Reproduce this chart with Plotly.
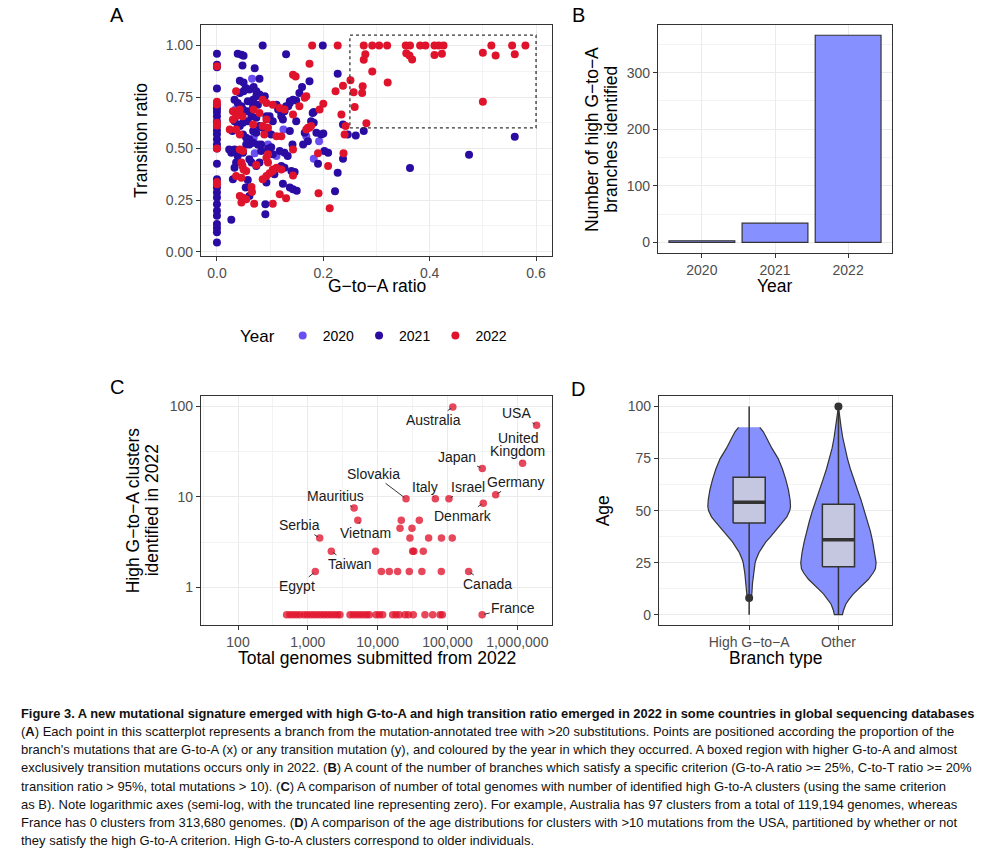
import numpy as np
import plotly.graph_objects as go

FONT = "Liberation Sans, Arial, sans-serif"
C2020, C2021, C2022 = "#6A4EF2", "#2B0CA3", "#E0132C"
VIOLET = "#8690FF"
FRAME = "#333333"

# ---------------- panel A: G-to-A ratio vs transition ratio, one point per branch
pts_2020 = [(0.066, 0.839), (0.035, 0.689), (0.069, 0.552), (0.096, 0.520), (0.125, 0.593),
            (0.071, 0.477), (0.112, 0.464), (0.168, 0.560), (0.192, 0.536), (0.182, 0.451)]

pts_2021 = [(0.0, 0.960), (0.0, 0.907), (0.0, 0.894), (0.0, 0.791), (0.0, 0.711), (0.0, 0.695),
            (0.0, 0.678), (0.0, 0.657), (0.0, 0.633), (0.0, 0.609), (0.0, 0.588), (0.0, 0.569),
            (0.0, 0.545), (0.0, 0.520), (0.0, 0.500), (0.0, 0.427), (0.0, 0.351), (0.0, 0.311),
            (0.0, 0.287), (0.0, 0.263), (0.0, 0.230), (0.0, 0.198), (0.0, 0.174), (0.0, 0.134),
            (0.0, 0.115), (0.0, 0.094), (0.0, 0.045),
            (0.027, 0.155), (0.023, 0.496), (0.039, 0.960), (0.046, 0.955), (0.050, 0.950),
            (0.048, 0.903), (0.086, 1.000), (0.071, 0.890), (0.130, 0.958), (0.199, 1.000),
            (0.174, 0.826), (0.080, 0.839), (0.043, 0.829), (0.050, 0.821), (0.054, 0.794),
            (0.061, 0.786), (0.069, 0.799), (0.074, 0.778), (0.033, 0.737), (0.039, 0.721),
            (0.046, 0.705), (0.065, 0.657), (0.074, 0.649), (0.155, 0.770), (0.160, 0.799),
            (0.137, 0.729), (0.130, 0.705), (0.121, 0.689), (0.121, 0.657), (0.124, 0.641),
            (0.137, 0.585), (0.149, 0.633), (0.180, 0.673), (0.182, 0.625), (0.162, 0.520),
            (0.171, 0.536), (0.187, 0.577), (0.196, 0.568), (0.200, 0.573), (0.202, 0.488),
            (0.209, 0.480), (0.190, 0.427), (0.142, 0.520), (0.127, 0.480), (0.133, 0.464),
            (0.121, 0.415), (0.127, 0.407), (0.140, 0.391), (0.146, 0.386), (0.124, 0.330),
            (0.137, 0.311), (0.143, 0.303), (0.150, 0.295), (0.091, 0.230), (0.091, 0.182),
            (0.061, 0.270), (0.054, 0.311), (0.058, 0.348), (0.030, 0.351), (0.093, 0.335),
            (0.108, 0.375), (0.096, 0.499), (0.102, 0.507), (0.105, 0.472), (0.118, 0.488),
            (0.074, 0.415), (0.080, 0.432), (0.083, 0.488), (0.061, 0.448), (0.065, 0.432),
            (0.036, 0.432), (0.033, 0.407), (0.039, 0.464), (0.049, 0.480), (0.033, 0.496),
            (0.027, 0.480), (0.055, 0.520), (0.061, 0.520), (0.068, 0.528), (0.077, 0.520),
            (0.083, 0.520), (0.049, 0.568), (0.055, 0.552), (0.061, 0.544), (0.043, 0.609),
            (0.049, 0.625), (0.058, 0.633), (0.033, 0.633), (0.039, 0.617), (0.029, 0.585),
            (0.080, 0.609), (0.086, 0.601), (0.068, 0.585), (0.074, 0.577), (0.096, 0.577),
            (0.102, 0.568), (0.093, 0.657), (0.099, 0.657), (0.105, 0.633), (0.115, 0.689),
            (0.121, 0.673), (0.127, 0.681), (0.112, 0.713), (0.134, 0.705), (0.137, 0.721),
            (0.143, 0.737), (0.149, 0.733), (0.165, 0.577), (0.177, 0.633), (0.182, 0.678),
            (0.043, 0.770), (0.050, 0.778), (0.058, 0.729), (0.068, 0.737), (0.074, 0.754),
            (0.080, 0.762), (0.090, 0.754), (0.068, 0.705), (0.077, 0.713), (0.049, 0.689),
            (0.058, 0.681), (0.237, 0.617), (0.246, 0.568), (0.261, 0.564), (0.276, 0.585),
            (0.237, 0.451), (0.227, 0.383), (0.222, 0.293), (0.227, 0.863), (0.560, 0.557),
            (0.474, 0.470), (0.363, 0.406)]

pts_2022 = [(0.0, 0.899), (0.0, 0.727), (0.0, 0.714), (0.0, 0.625), (0.0, 0.612), (0.0, 0.501),
            (0.0, 0.338), (0.0, 0.327), (0.024, 0.593),
            (0.179, 1.0), (0.227, 1.0), (0.276, 1.0), (0.292, 1.0), (0.305, 1.0), (0.320, 1.0),
            (0.355, 1.0), (0.363, 1.0), (0.382, 1.0), (0.392, 1.0), (0.409, 1.0), (0.417, 1.0),
            (0.426, 1.0), (0.516, 1.0), (0.555, 1.0), (0.580, 1.0),
            (0.279, 0.958), (0.356, 0.963), (0.362, 0.952), (0.367, 0.932), (0.409, 0.954),
            (0.423, 0.960), (0.500, 0.965), (0.524, 0.952), (0.560, 0.958), (0.276, 0.931),
            (0.292, 0.874), (0.321, 0.820), (0.274, 0.802), (0.273, 0.770), (0.500, 0.727),
            (0.281, 0.623), (0.259, 0.702), (0.251, 0.831), (0.257, 0.773), (0.237, 0.805),
            (0.223, 0.778), (0.234, 0.665), (0.242, 0.609), (0.240, 0.568), (0.238, 0.477),
            (0.212, 0.211), (0.209, 0.415), (0.191, 0.283), (0.190, 0.477), (0.193, 0.689),
            (0.200, 0.717), (0.174, 0.911), (0.143, 0.858), (0.148, 0.850), (0.036, 0.778),
            (0.086, 0.737), (0.093, 0.721), (0.105, 0.713), (0.043, 0.665), (0.048, 0.657),
            (0.068, 0.617), (0.069, 0.689), (0.080, 0.673), (0.093, 0.641), (0.096, 0.601),
            (0.086, 0.609), (0.143, 0.665), (0.155, 0.705), (0.165, 0.746), (0.168, 0.754),
            (0.174, 0.601), (0.168, 0.593), (0.112, 0.560), (0.121, 0.560), (0.143, 0.496),
            (0.121, 0.399), (0.112, 0.407), (0.105, 0.399), (0.143, 0.370), (0.118, 0.279),
            (0.130, 0.259), (0.105, 0.233), (0.070, 0.233), (0.046, 0.238), (0.049, 0.262),
            (0.055, 0.254), (0.043, 0.270), (0.066, 0.290), (0.065, 0.314), (0.046, 0.359),
            (0.036, 0.367), (0.086, 0.351), (0.093, 0.367), (0.099, 0.380), (0.105, 0.391),
            (0.096, 0.472), (0.093, 0.456), (0.096, 0.432), (0.074, 0.420), (0.046, 0.432),
            (0.048, 0.415), (0.050, 0.399), (0.055, 0.391), (0.043, 0.496), (0.049, 0.488),
            (0.036, 0.593), (0.043, 0.568), (0.089, 0.568), (0.118, 0.697), (0.127, 0.689),
            (0.171, 0.601), (0.177, 0.609), (0.030, 0.681), (0.036, 0.657), (0.030, 0.641),
            (0.043, 0.689)]

# high G-to-A region (dotted box)
BOX_GTA = [0.25, 0.6]
BOX_TRANS = [0.6, 1.05]

# ---------------- panel B: high G-to-A branches per year
years = ["2020", "2021", "2022"]
branch_counts = [3, 34, 366]

# ---------------- panel C: genomes vs clusters per country (2022)
countries = ["Australia", "USA", "United Kingdom", "Japan", "Germany", "Denmark", "Israel",
             "Italy", "Slovakia", "Mauritius", "Vietnam", "Serbia", "Taiwan", "Egypt",
             "Canada", "France"]
country_genomes = [119194, 1890000, 1190000, 315000, 490000, 326000, 105000, 67000, 25500,
                   4600, 5200, 1480, 2170, 1280, 201000, 313680]
country_clusters = [97, 61, 23, 20, 10, 8, 9, 9, 9, 7, 5, 3, 2, 1, 1, 0]

other_genomes = [21800, 39500, 20900, 31000, 29000, 53700, 82000, 117000, 9350, 31700, 33000,
                 45000, 11300, 14700, 19300, 28400, 43000, 81600,
                 497, 556, 620, 692, 772, 881, 984, 1099, 1225, 1368, 1527, 1705, 1903, 2124,
                 2371, 2645, 2888, 4017, 4484, 5005, 5585, 6234, 6957, 7597, 9469, 10566,
                 11793, 16406, 18313, 20437, 24620, 27480, 32410, 47630, 61380, 78200, 84400]
other_clusters = [5, 5, 4, 4, 3, 3, 3, 3, 2, 2, 2, 2, 1, 1, 1, 1, 1, 1,
                  0, 0, 0, 0, 0, 0, 0, 0, 0, 0, 0, 0, 0, 0, 0, 0, 0, 0, 0, 0, 0, 0, 0, 0,
                  0, 0, 0, 0, 0, 0, 0, 0, 0, 0, 0, 0, 0]

# ---------------- panel D: age by branch type (USA, >10 mutations)
branch_types = ["High G−to−A", "Other"]
age_q1 = [44, 23]
age_median = [54, 36]
age_q3 = [66, 53]
age_low = [0, 0]
age_high = [100, 100]
outlier_type = [0, 1]
outlier_age = [8, 100]

# violin outlines: age -> half width (in category units)
violin_age_hi = [90, 88, 85, 80, 75, 70, 65, 60, 55, 52, 50, 47, 45, 42, 40, 37, 35, 32, 30,
                 27, 25, 20, 15, 10, 8]
violin_w_hi = [0.119, 0.157, 0.194, 0.254, 0.325, 0.373, 0.410, 0.440, 0.459, 0.463, 0.455,
               0.422, 0.384, 0.325, 0.287, 0.231, 0.187, 0.142, 0.112, 0.082, 0.067, 0.049,
               0.037, 0.030, 0.022]
violin_age_ot = [100, 95, 90, 85, 80, 75, 70, 65, 60, 55, 50, 45, 40, 35, 30, 25, 22, 20, 17,
                 15, 12, 10, 7, 5, 2, 0]
violin_w_ot = [0.0, 0.015, 0.030, 0.049, 0.071, 0.101, 0.134, 0.172, 0.213, 0.254, 0.291,
               0.325, 0.358, 0.384, 0.407, 0.422, 0.414, 0.388, 0.336, 0.284, 0.216, 0.168,
               0.112, 0.082, 0.056, 0.045]

# label offsets (px) for panel C, text centre relative to its point
LABEL_OFFSETS = {
    "Australia": (-19, 13), "USA": (-20, -12), "United Kingdom": (-5, -12),
    "Japan": (-25, -12), "Germany": (20, -13), "Denmark": (-20, 13), "Israel": (19, -12),
    "Italy": (-10, -12), "Slovakia": (-33, -25), "Mauritius": (-19, -12),
    "Vietnam": (8, 13), "Serbia": (-20, -13), "Taiwan": (19, 13), "Egypt": (-18, 15),
    "Canada": (19, 13), "France": (31, -7),
}
BOX_HALF = 0.18

fig = go.Figure()

# A
for name, pts, col in [("2020", pts_2020, C2020), ("2021", pts_2021, C2021),
                       ("2022", pts_2022, C2022)]:
    xs, ys = zip(*pts)
    fig.add_trace(go.Scatter(x=xs, y=ys, mode="markers", name=name, xaxis="x", yaxis="y",
                             marker=dict(size=8, color=col, line=dict(width=0))))

# B
fig.add_trace(go.Bar(x=list(range(len(years))), y=branch_counts, width=0.9, xaxis="x2",
                     yaxis="y2", showlegend=False,
                     marker=dict(color=VIOLET, line=dict(color=FRAME, width=1.2))))

# C  (zero is drawn at 0.5 on the log axis)
fig.add_trace(go.Scatter(x=other_genomes + country_genomes,
                         y=[c + 0.5 for c in other_clusters + country_clusters],
                         mode="markers", xaxis="x3", yaxis="y3", showlegend=False,
                         marker=dict(size=7.5, color=C2022, opacity=0.78, line=dict(width=0))))

# D: violins, then whiskers, boxes, medians, outliers (all scatter so layering holds)
for pos, ages, widths in [(0, violin_age_hi, violin_w_hi), (1, violin_age_ot, violin_w_ot)]:
    w = np.array(widths)
    vx = np.concatenate([pos - w, (pos + w)[::-1]])
    vy = np.concatenate([ages, ages[::-1]])
    fig.add_trace(go.Scatter(x=vx, y=vy, mode="lines", fill="toself", fillcolor=VIOLET,
                             line=dict(color=FRAME, width=1.2), xaxis="x4", yaxis="y4",
                             showlegend=False, hoverinfo="skip"))
for pos in range(len(branch_types)):
    fig.add_trace(go.Scatter(x=[pos, pos, None, pos, pos],
                             y=[age_low[pos], age_q1[pos], None, age_q3[pos], age_high[pos]],
                             mode="lines", line=dict(color=FRAME, width=1.5), xaxis="x4",
                             yaxis="y4", showlegend=False, hoverinfo="skip"))
    x0, x1 = pos - BOX_HALF, pos + BOX_HALF
    fig.add_trace(go.Scatter(x=[x0, x1, x1, x0, x0],
                             y=[age_q1[pos], age_q1[pos], age_q3[pos], age_q3[pos], age_q1[pos]],
                             mode="lines", fill="toself", fillcolor="#C4C7DF",
                             line=dict(color=FRAME, width=1.5), xaxis="x4", yaxis="y4",
                             showlegend=False, hoverinfo="skip"))
    fig.add_trace(go.Scatter(x=[x0, x1], y=[age_median[pos]] * 2, mode="lines",
                             line=dict(color=FRAME, width=3.5), xaxis="x4", yaxis="y4",
                             showlegend=False, hoverinfo="skip"))
fig.add_trace(go.Scatter(x=outlier_type, y=outlier_age, mode="markers", xaxis="x4",
                         yaxis="y4", showlegend=False,
                         marker=dict(size=8, color=FRAME)))


def axis(**kw):
    base = dict(showline=True, mirror=True, linecolor=FRAME, linewidth=1.2, ticks="outside",
                ticklen=4, tickcolor=FRAME, tickwidth=1,
                tickfont=dict(family=FONT, size=14, color="#4D4D4D"),
                showgrid=True, gridcolor="#EBEBEB", gridwidth=1, zeroline=False)
    base.update(kw)
    return base


MINOR = dict(showgrid=True, gridcolor="#F3F3F3", gridwidth=0.6, ticks="")


def px_x(v):
    return v / 1000


def px_y(v):
    return 1 - v / 856


fig.update_layout(
    width=1000, height=856, autosize=False,
    margin=dict(l=0, r=0, t=0, b=0),
    paper_bgcolor="white", plot_bgcolor="white",
    font=dict(family=FONT, color="black"),
    xaxis=axis(domain=[px_x(201), px_x(552)], anchor="y", range=[-0.03, 0.63],
               tickvals=[0, 0.2, 0.4, 0.6], tickformat=".1f", minor=dict(dtick=0.1, **MINOR)),
    yaxis=axis(domain=[px_y(257), px_y(25)], anchor="x", range=[-0.02, 1.1],
               tickvals=[0, 0.25, 0.5, 0.75, 1], tickformat=".2f",
               minor=dict(dtick=0.125, **MINOR)),
    xaxis2=axis(domain=[px_x(658), px_x(892)], anchor="y2", range=[-0.6, 2.6],
                tickvals=list(range(len(years))), ticktext=years),
    yaxis2=axis(domain=[px_y(254), px_y(25)], anchor="x2", range=[-18.3, 384.3],
                tickvals=[0, 100, 200, 300], minor=dict(dtick=50, **MINOR)),
    xaxis3=axis(domain=[px_x(201), px_x(552)], anchor="y3", type="log", range=[1.47, 6.497],
                tickvals=[100, 1000, 10000, 100000, 1000000],
                ticktext=["100", "1,000", "10,000", "100,000", "1,000,000"],
                minor=dict(tickmode="array", tickvals=[10 ** (k + 0.5) for k in range(1, 6)],
                           **MINOR)),
    yaxis3=axis(domain=[px_y(628), px_y(398)], anchor="x3", type="log", range=[-0.415, 2.11],
                tickvals=[1, 10, 100], ticktext=["1", "10", "100"],
                minor=dict(tickmode="array", tickvals=[10 ** 0.5, 10 ** 1.5], **MINOR)),
    xaxis4=axis(domain=[px_x(659), px_x(892)], anchor="y4", range=[-1.01, 1.6],
                tickvals=[0, 1], ticktext=branch_types),
    yaxis4=axis(domain=[px_y(628), px_y(398)], anchor="x4", range=[-5, 105],
                tickvals=[0, 25, 50, 75, 100], minor=dict(dtick=12.5, **MINOR)),
    legend=dict(orientation="h", x=px_x(238), y=px_y(338), xanchor="left", yanchor="middle",
                title=dict(text="Year", side="left", font=dict(size=17, color="black")),
                font=dict(size=14, color="black"), bgcolor="rgba(0,0,0,0)"),
    showlegend=True,
)

fig.add_shape(type="rect", xref="x", yref="y", x0=BOX_GTA[0], x1=BOX_GTA[1],
              y0=BOX_TRANS[0], y1=BOX_TRANS[1], line=dict(color=FRAME, width=1.3, dash="dot"))

ann = []
TITLE = dict(size=17.5, color="black", family=FONT)
for text, x, y, ang in [
    ("G−to−A ratio", 376.5, 287, 0), ("Transition ratio", 141.7, 141, -90),
    ("Year", 775, 287, 0), ("Number of high G−to−A", 592.7, 140, -90),
    ("branches identified", 611.3, 140, -90),
    ("Total genomes submitted from 2022", 376.5, 661, 0),
    ("High G−to−A clusters", 132.7, 513, -90), ("identified in 2022", 151.7, 513, -90),
    ("Branch type", 775, 661, 0), ("Age", 602.7, 513, -90),
]:
    ann.append(dict(text=text, x=px_x(x), y=px_y(y), xref="paper", yref="paper",
                    showarrow=False, textangle=ang, font=TITLE,
                    xanchor="center", yanchor="middle"))

for letter, x, y in [("A", 117, 15.3), ("B", 578.3, 15), ("C", 117, 388.8), ("D", 578, 390.8)]:
    ann.append(dict(text=letter, x=px_x(x), y=px_y(y), xref="paper", yref="paper",
                    showarrow=False, font=dict(size=20, color="black", family=FONT),
                    xanchor="center", yanchor="middle"))

for name, g, c in zip(countries, country_genomes, country_clusters):
    dx, dy = LABEL_OFFSETS[name]
    text = "Kingdom" if name == "United Kingdom" else name
    ann.append(dict(text=text, x=np.log10(g), y=np.log10(c + 0.5), xref="x3", yref="y3",
                    ax=dx, ay=dy, showarrow=True, arrowhead=0, arrowwidth=1,
                    arrowcolor=FRAME, standoff=2,
                    font=dict(size=14, color="#1A1A1A", family=FONT)))
    if name == "United Kingdom":
        ann.append(dict(text="United", x=np.log10(g), y=np.log10(c + 0.5), xref="x3",
                        yref="y3", ax=dx, ay=dy - 13, showarrow=True, arrowwidth=0.1,
                        arrowcolor="rgba(0,0,0,0)",
                        font=dict(size=14, color="#1A1A1A", family=FONT)))

caption = [
    "<b>Figure 3. A new mutational signature emerged with high G-to-A and high transition ratio "
    "emerged in 2022 in some countries in global sequencing databases</b>",
    "(<b>A</b>) Each point in this scatterplot represents a branch from the mutation-annotated "
    "tree with &gt;20 substitutions. Points are positioned according the proportion of the",
    "branch's mutations that are G-to-A (x) or any transition mutation (y), and coloured by the "
    "year in which they occurred. A boxed region with higher G-to-A and almost",
    "exclusively transition mutations occurs only in 2022. (<b>B</b>) A count of the number of "
    "branches which satisfy a specific criterion (G-to-A ratio &gt;= 25%, C-to-T ratio &gt;= 20%",
    "transition ratio &gt; 95%, total mutations &gt; 10). (<b>C</b>) A comparison of number of "
    "total genomes with number of identified high G-to-A clusters (using the same criterion",
    "as B). Note logarithmic axes (semi-log, with the truncated line representing zero). For "
    "example, Australia has 97 clusters from a total of 119,194 genomes, whereas",
    "France has 0 clusters from 313,680 genomes. (<b>D</b>) A comparison of the age distributions "
    "for clusters with &gt;10 mutations from the USA, partitioned by whether or not",
    "they satisfy the high G-to-A criterion. High G-to-A clusters correspond to older individuals.",
]
cap_y = [716.5, 735, 753.3, 771.6, 790, 808.3, 826.3, 844]
for i, (line, y) in enumerate(zip(caption, cap_y)):
    ann.append(dict(text=line, x=px_x(19), y=px_y(y), xref="paper", yref="paper",
                    showarrow=False, xanchor="left", yanchor="middle",
                    font=dict(size=12.9 if i == 0 else 13.0, color="#111111", family=FONT)))

fig.update_layout(annotations=ann)
# drop the browser's default 8px body margin so the 1000x856 figure fills the window
fig.write_html("out.html", config={"displayModeBar": False},
               post_script="document.body.style.margin = '0px';")
